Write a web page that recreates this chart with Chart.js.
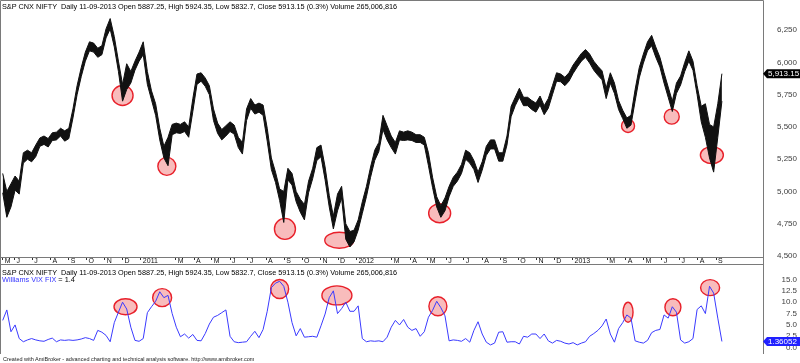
<!DOCTYPE html>
<html><head><meta charset="utf-8">
<script src="https://cdn.jsdelivr.net/npm/chart.js@4.4.0/dist/chart.umd.min.js"></script>
<style>
html,body{margin:0;padding:0;background:#fff;}
body{width:800px;height:363px;position:relative;overflow:hidden;font-family:Arial,"Liberation Sans",sans-serif;}
#c1{position:absolute;left:0;top:0;}
#c2{position:absolute;left:0;top:264px;}
.t{position:absolute;white-space:pre;font-size:7.3px;line-height:8px;color:#000;}
.blue{color:#3535ff;}
.foot{position:absolute;left:3px;top:355.5px;white-space:pre;font-size:5.5px;line-height:6px;color:#222;}
</style></head><body>
<canvas id="c1" width="800" height="265"></canvas>
<canvas id="c2" width="800" height="90"></canvas>
<div class="t" style="left:2px;top:2.5px">S&amp;P CNX NIFTY  Daily 11-09-2013 Open 5887.25, High 5924.35, Low 5832.7, Close 5913.15 (0.3%) Volume 265,006,816</div>
<div class="t" style="left:2px;top:268.5px">S&amp;P CNX NIFTY  Daily 11-09-2013 Open 5887.25, High 5924.35, Low 5832.7, Close 5913.15 (0.3%) Volume 265,006,816</div>
<div class="t" style="left:2px;top:275.8px"><span class="blue">Williams VIX FIX</span> = 1.4</div>
<div class="foot">Created with AmiBroker - advanced charting and technical analysis software. http://www.amibroker.com</div>
<script>
// ---------- DATA ----------
const weekStart = '2010-05-12'; // one value per week from this date
const priceHigh = [5140,5000,5060,5120,5080,5300,5320,5300,5360,5415,5430,5410,5455,5460,5490,5470,5490,5640,5820,5960,
6080,6160,6150,6110,6130,6260,6340,6200,6010,5830,5990,5930,6010,6080,6160,5930,5780,5680,5490,5350,
5420,5520,5530,5520,5540,5500,5720,5910,5920,5880,5820,5640,5530,5480,5510,5540,5515,5420,5380,5640,
5720,5670,5685,5670,5490,5260,5150,5020,5000,5180,5140,5000,4940,4900,5080,5180,5340,5360,5190,4970,
4810,4980,5040,4750,4690,4700,4780,4920,5040,5190,5320,5380,5590,5510,5430,5380,5470,5460,5470,5460,
5440,5440,5420,5300,5110,4960,4890,4950,5040,5110,5150,5210,5320,5300,5240,5150,5230,5350,5400,5400,
5300,5300,5430,5660,5730,5800,5730,5730,5705,5685,5740,5665,5720,5820,5920,5910,5885,5920,5980,6025,
6070,6100,6065,6010,5970,5935,5800,5920,5840,5705,5630,5570,5590,5790,5960,6065,6160,6210,6120,6040,
5920,5810,5700,5840,5895,6000,6090,6010,5820,5660,5680,5520,5500,5680,5913];
const priceLow = [4990,4800,4880,5010,4980,5220,5250,5230,5270,5350,5365,5345,5395,5400,5430,5390,5410,5570,5750,5890,
6010,6090,6080,6040,6060,6190,6260,6120,5930,5700,5790,5840,5940,6010,6060,5830,5710,5590,5400,5260,
5200,5440,5455,5450,5465,5420,5620,5830,5855,5815,5750,5550,5450,5400,5430,5465,5445,5340,5290,5550,
5645,5600,5615,5590,5390,5170,5070,4930,4760,5090,5050,4920,4840,4780,4990,5100,5240,5270,5090,4880,
4710,4850,4950,4630,4570,4610,4700,4830,4960,5110,5240,5310,5480,5400,5340,5290,5400,5395,5400,5395,
5380,5380,5360,5200,5030,4880,4800,4850,4960,5040,5080,5140,5250,5220,5170,5070,5165,5280,5330,5330,
5235,5235,5360,5580,5665,5730,5665,5665,5635,5615,5670,5595,5645,5750,5855,5850,5820,5855,5915,5965,
6010,6040,5995,5940,5900,5865,5720,5840,5760,5635,5565,5490,5515,5700,5880,5995,6090,6130,6040,5965,
5840,5730,5620,5760,5825,5930,6010,5940,5750,5540,5420,5260,5150,5420,5700];
const vixFix = [6.0,8.3,3.5,5.0,2.0,1.3,1.7,2.0,1.7,1.5,1.4,1.8,2.1,1.3,1.7,1.6,1.7,1.6,1.7,1.9,
2.2,2.0,1.6,3.8,3.4,2.7,1.3,5.5,7.8,10.0,8.5,4.5,1.6,1.4,2.0,7.7,9.0,10.2,12.3,11.0,
11.5,7.5,4.5,2.4,3.0,2.1,2.9,1.6,1.5,3.1,5.2,6.7,7.1,7.7,8.3,2.5,1.3,1.1,1.2,1.3,
2.5,3.6,2.2,4.0,8.0,13.2,14.2,14.6,13.5,10.0,5.5,2.6,4.2,2.3,2.4,2.5,2.3,4.8,7.4,11.0,
12.5,7.5,8.6,10.0,8.0,8.0,9.2,2.0,1.3,1.5,1.4,1.5,1.3,2.3,4.5,6.0,5.0,6.2,4.5,3.8,
4.2,2.5,3.5,6.7,8.2,10.2,8.8,7.0,1.5,1.7,1.6,1.4,2.0,1.2,3.8,5.7,3.0,1.2,0.6,1.0,
3.4,3.5,1.2,1.3,1.3,0.8,2.5,2.3,3.0,3.0,2.0,3.0,1.5,1.0,1.6,1.4,1.0,0.8,1.1,0.6,
1.0,1.3,2.5,3.1,3.8,4.8,6.3,3.0,1.2,4.2,5.5,7.2,6.5,1.5,1.2,1.0,1.6,3.3,3.8,4.0,
7.2,6.5,9.0,7.8,1.7,1.0,1.3,2.0,8.4,9.2,7.5,13.5,12.0,6.5,1.36];
const lastClose = 5913.15;
const lastVix = 1.36052;
const priceTicks = [4500,4750,5000,5250,5500,5750,6000,6250];
const vixTicks = [0,2.5,5,7.5,10,12.5,15];
const monthTickDates = ['2010-05-12','2010-06-01','2010-07-01','2010-08-01','2010-09-01','2010-10-01','2010-11-01','2010-12-01',
'2011-01-01','2011-03-01','2011-04-01','2011-05-01','2011-06-01','2011-07-01','2011-08-01','2011-09-01','2011-10-01','2011-11-01','2011-12-01',
'2012-01-01','2012-03-01','2012-04-01','2012-05-01','2012-06-01','2012-07-01','2012-08-01','2012-09-01','2012-10-01','2012-11-01','2012-12-01',
'2013-01-01','2013-03-01','2013-04-01','2013-05-01','2013-06-01','2013-07-01','2013-08-01','2013-09-01'];
const monthTickLabels = ['M','J','J','A','S','O','N','D',
'2011','M','A','M','J','J','A','S','O','N','D',
'2012','M','A','M','J','J','A','S','O','N','D',
'2013','M','A','M','J','J','A','S'];
// highlighted zones (date, value)
const priceMarkDates = ['2010-12-01','2011-02-14','2011-09-02','2011-12-03','2012-05-21','2013-04-05','2013-06-18','2013-08-25'];
const priceMarkValues = [5744,5195,4710,4622,4832,5508,5580,5282];
const vixMarkDates = ['2010-12-06','2011-02-06','2011-08-24','2011-11-29','2012-05-18','2013-04-05','2013-06-20','2013-08-22'];
const vixMarkValues = [9.0,11.0,12.9,11.5,9.1,7.8,8.9,13.2];

// ---------- STYLE ----------
const priceMarkRadii = [[10.5,10],[9,9],[10.5,10.5],[14.5,8],[11,9.5],[6.5,6.5],[7.5,7.5],[11.5,8.5]];
const vixMarkRadii = [[11.5,8],[9.5,9],[9,9.5],[15,9.5],[9,9.5],[5,10],[8,8.5],[9.5,8]];
const X_MIN = -22.86, X_MAX = 1267.57;
const PRICE_MIN = 4492.4, PRICE_MAX = 6446.7;
const VIX_MIN = -0.342, VIX_MAX = 17.353;

Chart.defaults.font.family = 'Arial, "Liberation Sans", sans-serif';
const DAY0 = Date.parse('2010-06-01T00:00:00Z');
const dayNum = s => (Date.parse(s + 'T00:00:00Z') - DAY0) / 86400000;
const weekX = priceHigh.map((_, i) => dayNum(weekStart) + 7 * i);

function markPlugin(dates, values, radii) {
  return {
    id: 'marks',
    beforeDatasetsDraw(chart) {
      const {ctx, scales: {x, y}} = chart;
      ctx.save();
      dates.forEach((d, i) => {
        const cx = x.getPixelForValue(dayNum(d));
        const cy = y.getPixelForValue(values[i]);
        ctx.beginPath();
        ctx.ellipse(cx, cy, radii[i][0], radii[i][1], 0, 0, Math.PI * 2);
        ctx.fillStyle = '#f8bcbc';
        ctx.fill();
        ctx.lineWidth = 1.4;
        ctx.strokeStyle = '#e8202a';
        ctx.stroke();
      });
      ctx.restore();
    }
  };
}
function badgePlugin(value, text, bg) {
  return {
    id: 'badge',
    afterDraw(chart) {
      const {ctx, chartArea, scales: {y}} = chart;
      const py = y.getPixelForValue(value);
      const x0 = chartArea.right, h = 4.5;
      ctx.save();
      ctx.beginPath();
      ctx.moveTo(x0, py); ctx.lineTo(x0 + 4, py - h); ctx.lineTo(800, py - h);
      ctx.lineTo(800, py + h); ctx.lineTo(x0 + 4, py + h); ctx.closePath();
      ctx.fillStyle = bg; ctx.fill();
      ctx.fillStyle = '#fff';
      ctx.font = '8px Arial, "Liberation Sans", sans-serif';
      ctx.textBaseline = 'middle'; ctx.textAlign = 'left';
      ctx.fillText(text, x0 + 5, py + 0.5);
      ctx.restore();
    }
  };
}
function framePlugin(isTop) {
  return {
    id: 'frame',
    afterDraw(chart) {
      const {ctx, chartArea: a} = chart;
      ctx.save();
      ctx.strokeStyle = '#7a7a7a'; ctx.lineWidth = 1;
      ctx.beginPath();
      ctx.moveTo(0.5, chart.height); ctx.lineTo(0.5, 0.5); ctx.lineTo(a.right + 0.5, 0.5); ctx.lineTo(a.right + 0.5, chart.height);
      if (isTop) { ctx.moveTo(0, a.bottom + 0.5); ctx.lineTo(a.right + 1, a.bottom + 0.5); }
      ctx.stroke();
      ctx.restore();
    }
  };
}

new Chart(document.getElementById('c1'), {
  type: 'line',
  data: { datasets: [
    { data: weekX.map((x, i) => ({x, y: priceHigh[i]})), borderColor: '#111', backgroundColor: '#111',
      borderWidth: 1, pointRadius: 0, tension: 0, fill: '+1' },
    { data: weekX.map((x, i) => ({x, y: priceLow[i]})), borderColor: '#111', backgroundColor: '#111',
      borderWidth: 1, pointRadius: 0, tension: 0, fill: false }
  ]},
  options: {
    responsive: false, animation: false, events: [],
    layout: {padding: {top: 1, left: 1, right: 3, bottom: 0}},
    plugins: {legend: {display: false}, tooltip: {enabled: false}},
    scales: {
      x: {
        type: 'linear', min: X_MIN, max: X_MAX, offset: false, position: 'bottom',
        grid: {display: true, drawOnChartArea: false, drawTicks: true, tickLength: 3, color: '#333'},
        border: {display: false},
        afterBuildTicks: s => { s.ticks = monthTickDates.map(d => ({value: dayNum(d)})); },
        afterFit: s => { s.height = 8; },
        ticks: {autoSkip: false, maxRotation: 0, minRotation: 0, align: 'start', labelOffset: 2, padding: -3,
          font: {size: 7}, color: '#111', callback: (v, i) => monthTickLabels[i]}
      },
      y: {
        type: 'linear', position: 'right', min: PRICE_MIN, max: PRICE_MAX, beginAtZero: false,
        grid: {display: false}, border: {display: false},
        afterBuildTicks: s => { s.ticks = priceTicks.map(v => ({value: v})); },
        afterFit: s => { s.width = 34; },
        ticks: {crossAlign: 'far', padding: 0, font: {size: 8}, color: '#404040', callback: v => v.toLocaleString('en-US')}
      }
    }
  },
  plugins: [markPlugin(priceMarkDates, priceMarkValues, priceMarkRadii), framePlugin(true),
    badgePlugin(lastClose, lastClose.toLocaleString('en-US', {minimumFractionDigits: 2}), '#000')]
});

new Chart(document.getElementById('c2'), {
  type: 'line',
  data: { datasets: [{
    data: weekX.map((x, i) => ({x, y: vixFix[i]})),
    borderColor: '#3a3aff', borderWidth: 1, pointRadius: 0, tension: 0, fill: false
  }]},
  options: {
    responsive: false, animation: false, events: [],
    layout: {padding: {top: 1, left: 1, right: 3, bottom: 1}},
    plugins: {legend: {display: false}, tooltip: {enabled: false}},
    scales: {
      x: {type: 'linear', min: X_MIN, max: X_MAX, display: false},
      y: {
        type: 'linear', position: 'right', min: VIX_MIN, max: VIX_MAX,
        grid: {display: false}, border: {display: false},
        afterBuildTicks: s => { s.ticks = vixTicks.map(v => ({value: v})); },
        afterFit: s => { s.width = 34; },
        ticks: {crossAlign: 'far', padding: 0, font: {size: 8}, color: '#404040', callback: v => v.toFixed(1)}
      }
    }
  },
  plugins: [markPlugin(vixMarkDates, vixMarkValues, vixMarkRadii), framePlugin(false),
    badgePlugin(lastVix, String(lastVix), '#2020ff')]
});
</script>
</body></html>
